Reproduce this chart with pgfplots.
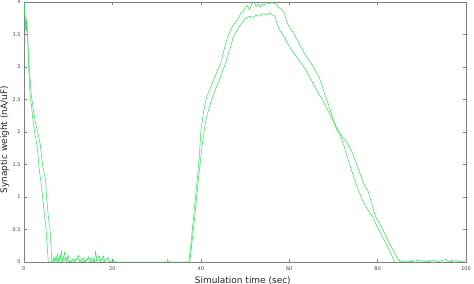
\documentclass[border=0pt]{standalone}
\usepackage{pgfplots}
\pgfplotsset{compat=1.18}
\usepackage{pgfplotstable}
\usepackage{fontspec}
\setmainfont{DejaVu Sans}
\definecolor{lgreen}{RGB}{40,228,80}
\pgfplotstableread{
t w
0 3.95
0.2 3.75
0.4 3.55
0.6 3.65
0.8 3.45
1.0 3.1
1.2 2.8
1.4 2.55
1.7 2.4
2.0 2.2
2.4 2.0
2.8 1.85
3.1 1.7
3.4 1.45
3.7 1.3
4.0 1.15
4.2 1.0
4.6 0.75
5.0 0.5
5.3 0.2
5.5 0.0
6.5 0
6.8 0.08
7.0 0
7.6 0.12
7.9 0.0
8.5 0.16
8.7 0.02
9.2 0.15
9.5 0.0
10 0.1
10.3 0
11.1 0.05
11.4 0
12.3 0.1
12.6 0
13.5 0.06
13.8 0
14.6 0.08
14.9 0
15.6 0.05
15.9 0
16.2 0.16
16.5 0.02
17 0.1
17.3 0
18 0.09
18.3 0
19 0.07
19.3 0
20.2 0.04
20.5 0
32.3 0
32.5 0.04
32.7 0
37.3 0
37.8 0.3
38.3 0.65
38.8 1.0
39.3 1.35
39.7 1.65
40.0 2.0
40.5 2.25
41.0 2.45
41.4 2.55
42 2.65
42.6 2.75
43.2 2.85
43.8 2.95
44.5 3.05
45.2 3.25
45.8 3.4
46.3 3.5
46.8 3.58
47.4 3.65
48 3.7
48.5 3.75
49 3.82
49.5 3.85
50 3.9
50.5 3.95
51 3.88
51.5 3.97
52 4.0
52.5 3.93
53 3.97
53.5 3.92
54 3.97
54.5 3.95
55 4.0
55.5 3.97
56 4.0
56.5 3.98
57 3.97
57.5 3.92
58 3.9
58.5 3.88
59 3.8
59.5 3.68
60 3.62
60.5 3.57
61 3.52
61.5 3.45
62 3.4
62.5 3.32
63 3.27
63.5 3.2
64 3.15
64.5 3.1
65 3.05
65.5 3.0
66 2.93
66.8 2.84
67.5 2.7
68.2 2.55
69 2.4
69.7 2.25
70.3 2.12
70.9 2.0
71.5 1.98
72 1.92
72.7 1.88
73.5 1.78
74.3 1.68
75 1.55
75.8 1.4
76.5 1.27
77.2 1.15
77.8 1.1
78.4 0.96
79 0.82
79.5 0.7
80.2 0.62
80.8 0.55
81.5 0.45
82.2 0.35
83 0.25
83.8 0.14
84.5 0.06
85.2 0
86 0.02
86.3 0
90 0.03
90.3 0
93 0.03
93.3 0
95.5 0.04
95.8 0
98 0.03
98.3 0
100 0.02
}\seriesA
\pgfplotstableread{
t w
0 4.0
0.2 3.85
0.4 3.65
0.6 3.72
0.8 3.55
1.0 3.2
1.3 2.9
1.6 2.6
1.9 2.45
2.2 2.3
2.6 2.15
3.1 2.0
3.4 1.9
3.7 1.8
4.0 1.6
4.3 1.45
4.6 1.35
4.9 1.25
5.1 1.0
5.5 0.7
5.9 0.5
6.1 0.25
6.3 0.0
7.3 0.06
7.5 0
8.2 0.1
8.4 0
9.8 0.07
10.0 0
12.9 0.05
13.1 0
15.2 0.06
15.4 0
17.8 0.05
18 0
37.5 0
38 0.3
38.5 0.6
39 0.95
39.5 1.3
40 1.6
40.4 1.85
40.7 2.0
41.2 2.2
41.8 2.35
42.5 2.5
43 2.6
43.6 2.7
44.2 2.8
45 2.95
45.6 3.05
46.2 3.2
46.8 3.32
47.3 3.45
47.9 3.53
48.5 3.6
49 3.65
49.5 3.7
50.2 3.75
51 3.78
51.8 3.76
52.5 3.8
53.2 3.78
54 3.82
54.8 3.8
55.5 3.83
56.2 3.8
56.8 3.78
57.2 3.68
57.6 3.6
58 3.55
58.5 3.5
59 3.45
59.5 3.38
60 3.32
60.5 3.27
61.2 3.2
62 3.12
62.8 3.05
63.5 2.98
64.2 2.9
65 2.8
65.5 2.73
66.3 2.63
67 2.55
67.5 2.5
68.2 2.4
69 2.3
69.8 2.19
70.5 2.1
71.3 2.0
71.8 1.9
72.4 1.78
73.3 1.58
74.3 1.37
75.4 1.15
76.5 0.96
77.6 0.82
78.8 0.7
79.5 0.6
80.3 0.49
81.5 0.34
82.6 0.19
83.2 0.1
83.8 0
87.5 0
87.7 0.03
87.9 0
91.5 0
91.7 0.02
91.9 0
96.5 0
96.7 0.03
96.9 0
100 0
}\seriesB
\begin{document}
\begin{tikzpicture}
\begin{axis}[
  scale only axis,
  width=442bp, height=260bp,
  xmin=0, xmax=100, ymin=0, ymax=4,
  xtick={0,20,...,100},
  ytick={0,0.5,...,4},
  /pgf/number format/assume math mode=true,
  tick label style={font=\fontsize{5}{6}\selectfont, color=black!75},
  xticklabel style={yshift=-1bp},
  tick align=inside,
  major tick length=3bp,
  axis line style={gray, line width=0.6pt},
  tick style={gray, line width=0.5pt},
  xlabel={Simulation time (sec)},
  ylabel={Synaptic weight (nA/uF)},
  label style={font=\fontsize{9}{11}\selectfont, color=black!85},
  xlabel style={at={(axis description cs:0.495,-0.081)}, anchor=base},
  ylabel style={at={(axis description cs:-0.044,0.47)}, anchor=center},
]
\addplot[lgreen, line width=0.5pt] table[x=t, y=w] {\seriesA};
\addplot[lgreen, line width=0.5pt] table[x=t, y=w] {\seriesB};
\end{axis}
\pgfresetboundingbox
\path[use as bounding box] ([shift={(-24bp,-22bp)}]current axis.south west) rectangle ([shift={(8bp,2bp)}]current axis.north east);
\end{tikzpicture}
\end{document}
